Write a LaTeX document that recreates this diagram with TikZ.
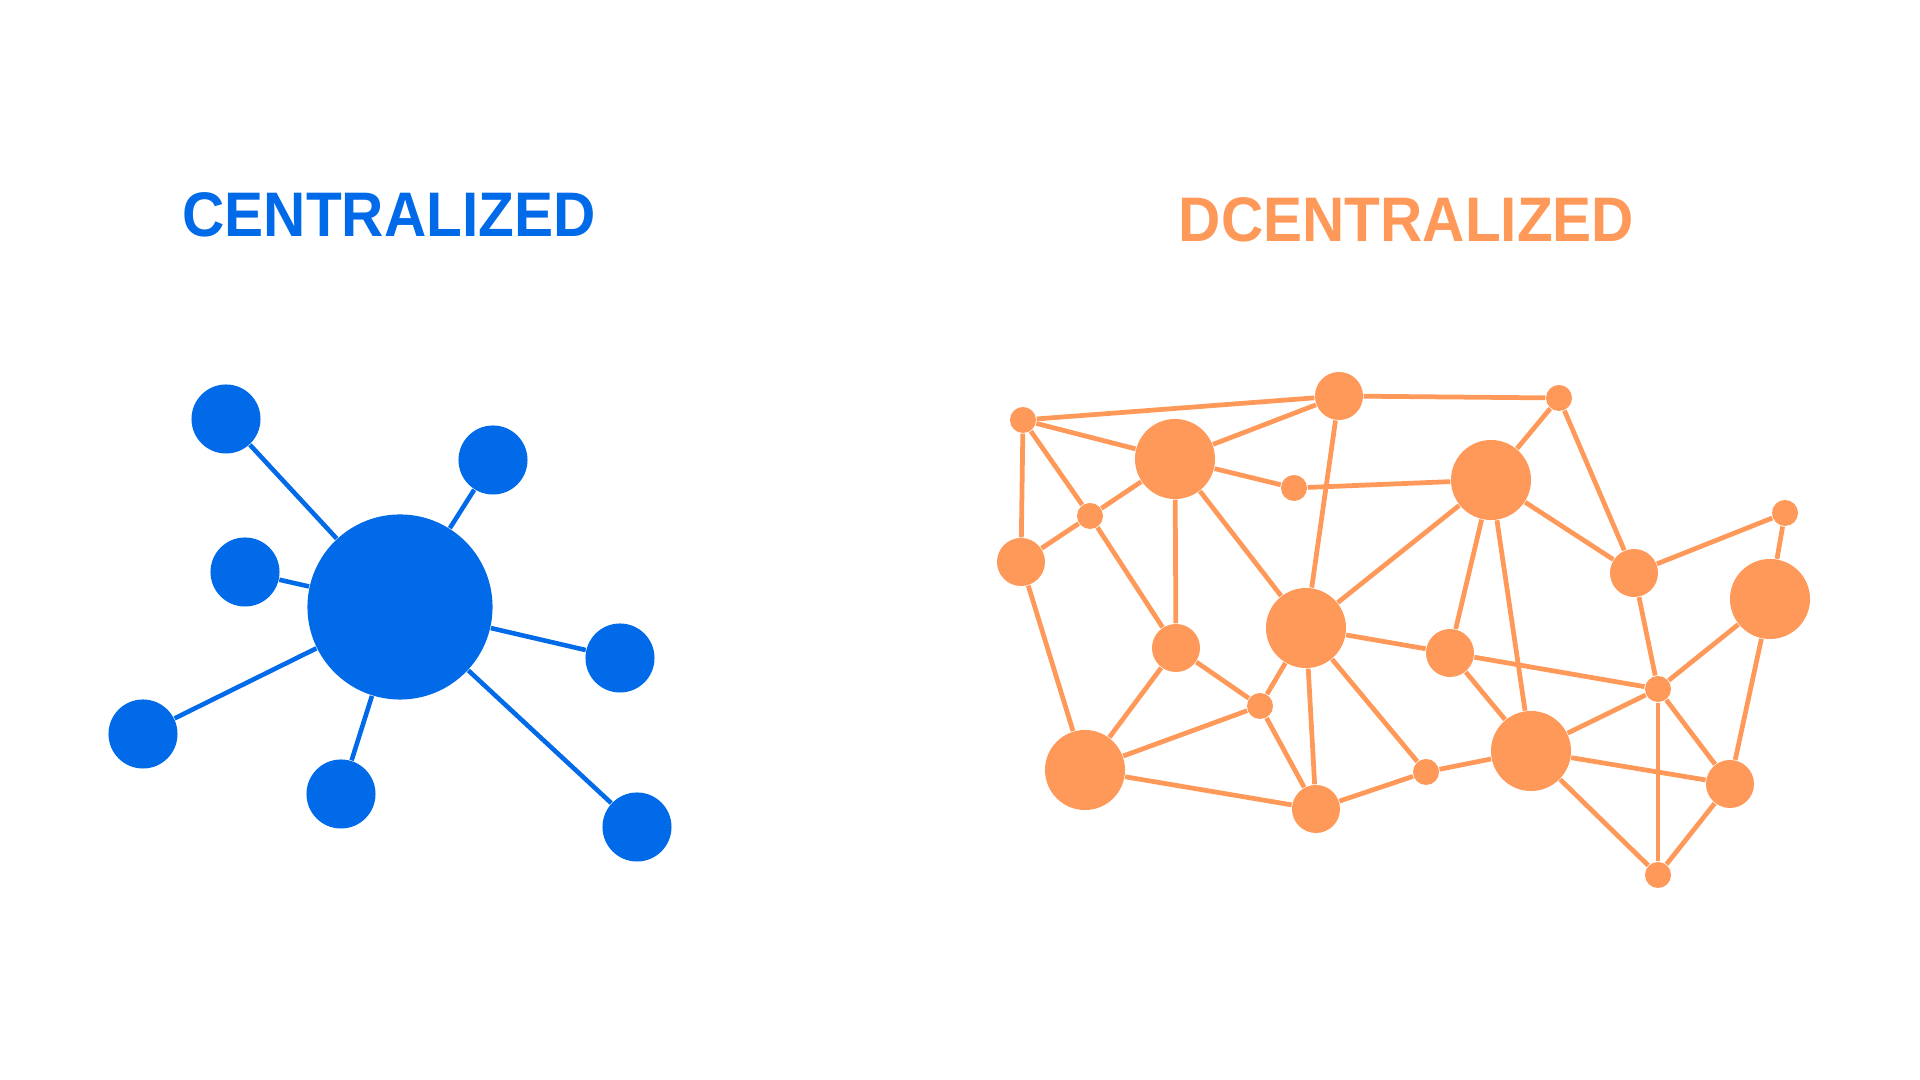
\documentclass[tikz,border=0pt]{standalone}
\usepackage{fontspec}
\setmainfont{Liberation Sans}
\usepackage{tikz}
\definecolor{hubblue}{RGB}{0,106,232}
\definecolor{meshorange}{RGB}{255,153,90}
\tikzset{
  title/.style={inner sep=0pt,font=\bfseries\fontsize{17.9pt}{20pt}\selectfont,xscale=0.93},
  cnode/.style={circle,fill=hubblue,inner sep=0pt,minimum size=0.69cm},
  chub/.style={circle,fill=hubblue,inner sep=0pt,minimum size=1.85cm},
  cedge/.style={draw=hubblue,line width=1.3pt},
  dbig/.style={circle,fill=meshorange,inner sep=0pt,minimum size=0.8cm},
  dmid/.style={circle,fill=meshorange,inner sep=0pt,minimum size=0.48cm},
  dsmall/.style={circle,fill=meshorange,inner sep=0pt,minimum size=0.26cm},
  dedge/.style={draw=meshorange,line width=1.35pt}
}
\begin{document}
\begin{tikzpicture}[x=0.01cm,y=-0.01cm]
\useasboundingbox (0,0) rectangle (1920,1080);

\node[title,text=hubblue] (ctitle) at (389,214.5) {CENTRALIZED};
\node[title,text=meshorange] (dtitle) at (1406.5,219.5) {DCENTRALIZED};

% centralized
\node[chub] (c0) at (400,607) {};
\node[cnode] (c1) at (226,419) {};
\node[cnode] (c2) at (493,460) {};
\node[cnode] (c3) at (245,572) {};
\node[cnode] (c4) at (620,658) {};
\node[cnode] (c5) at (143,734) {};
\node[cnode] (c6) at (341,794) {};
\node[cnode] (c7) at (637,827) {};

\draw[cedge] (c0) -- (c1);
\draw[cedge] (c0) -- (c2);
\draw[cedge] (c0) -- (c3);
\draw[cedge] (c0) -- (c4);
\draw[cedge] (c0) -- (c5);
\draw[cedge] (c0) -- (c6);
\draw[cedge] (c0) -- (c7);

% decentralized
\node[dsmall] (d0) at (1023,420) {};
\node[dmid] (d1) at (1339,396) {};
\node[dsmall] (d2) at (1559,398) {};
\node[dbig] (d3) at (1175,459) {};
\node[dsmall] (d4) at (1294,488) {};
\node[dbig] (d5) at (1491,480) {};
\node[dsmall] (d6) at (1090,516) {};
\node[dmid] (d7) at (1021,562) {};
\node[dsmall] (d8) at (1785,513) {};
\node[dmid] (d9) at (1634,573) {};
\node[dbig] (d10) at (1770,599) {};
\node[dbig] (d11) at (1306,628) {};
\node[dmid] (d12) at (1176,648) {};
\node[dmid] (d13) at (1450,653) {};
\node[dsmall] (d14) at (1658,689) {};
\node[dsmall] (d15) at (1260,706) {};
\node[dbig] (d16) at (1085,770) {};
\node[dbig] (d17) at (1531,751) {};
\node[dsmall] (d18) at (1426,772) {};
\node[dmid] (d19) at (1316,809) {};
\node[dmid] (d20) at (1730,784) {};
\node[dsmall] (d21) at (1658,875) {};

\draw[dedge] (d0) -- (d1);
\draw[dedge] (d1) -- (d2);
\draw[dedge] (d0) -- (d3);
\draw[dedge] (d0) -- (d6);
\draw[dedge] (d0) -- (d7);
\draw[dedge] (d1) -- (d3);
\draw[dedge] (d1) -- (d11);
\draw[dedge] (d2) -- (d5);
\draw[dedge] (d2) -- (d9);
\draw[dedge] (d3) -- (d4);
\draw[dedge] (d3) -- (d6);
\draw[dedge] (d3) -- (d12);
\draw[dedge] (d3) -- (d11);
\draw[dedge] (d4) -- (d5);
\draw[dedge] (d6) -- (d7);
\draw[dedge] (d6) -- (d12);
\draw[dedge] (d7) -- (d16);
\draw[dedge] (d5) -- (d11);
\draw[dedge] (d5) -- (d9);
\draw[dedge] (d5) -- (d13);
\draw[dedge] (d5) -- (d17);
\draw[dedge] (d9) -- (d8);
\draw[dedge] (d9) -- (d14);
\draw[dedge] (d8) -- (d10);
\draw[dedge] (d10) -- (d14);
\draw[dedge] (d10) -- (d20);
\draw[dedge] (d11) -- (d13);
\draw[dedge] (d11) -- (d15);
\draw[dedge] (d11) -- (d19);
\draw[dedge] (d11) -- (d18);
\draw[dedge] (d12) -- (d15);
\draw[dedge] (d12) -- (d16);
\draw[dedge] (d13) -- (d14);
\draw[dedge] (d13) -- (d17);
\draw[dedge] (d15) -- (d16);
\draw[dedge] (d15) -- (d19);
\draw[dedge] (d16) -- (d19);
\draw[dedge] (d19) -- (d18);
\draw[dedge] (d18) -- (d17);
\draw[dedge] (d17) -- (d14);
\draw[dedge] (d17) -- (d20);
\draw[dedge] (d17) -- (d21);
\draw[dedge] (d14) -- (d21);
\draw[dedge] (d14) -- (d20);
\draw[dedge] (d20) -- (d21);
\end{tikzpicture}
\end{document}
